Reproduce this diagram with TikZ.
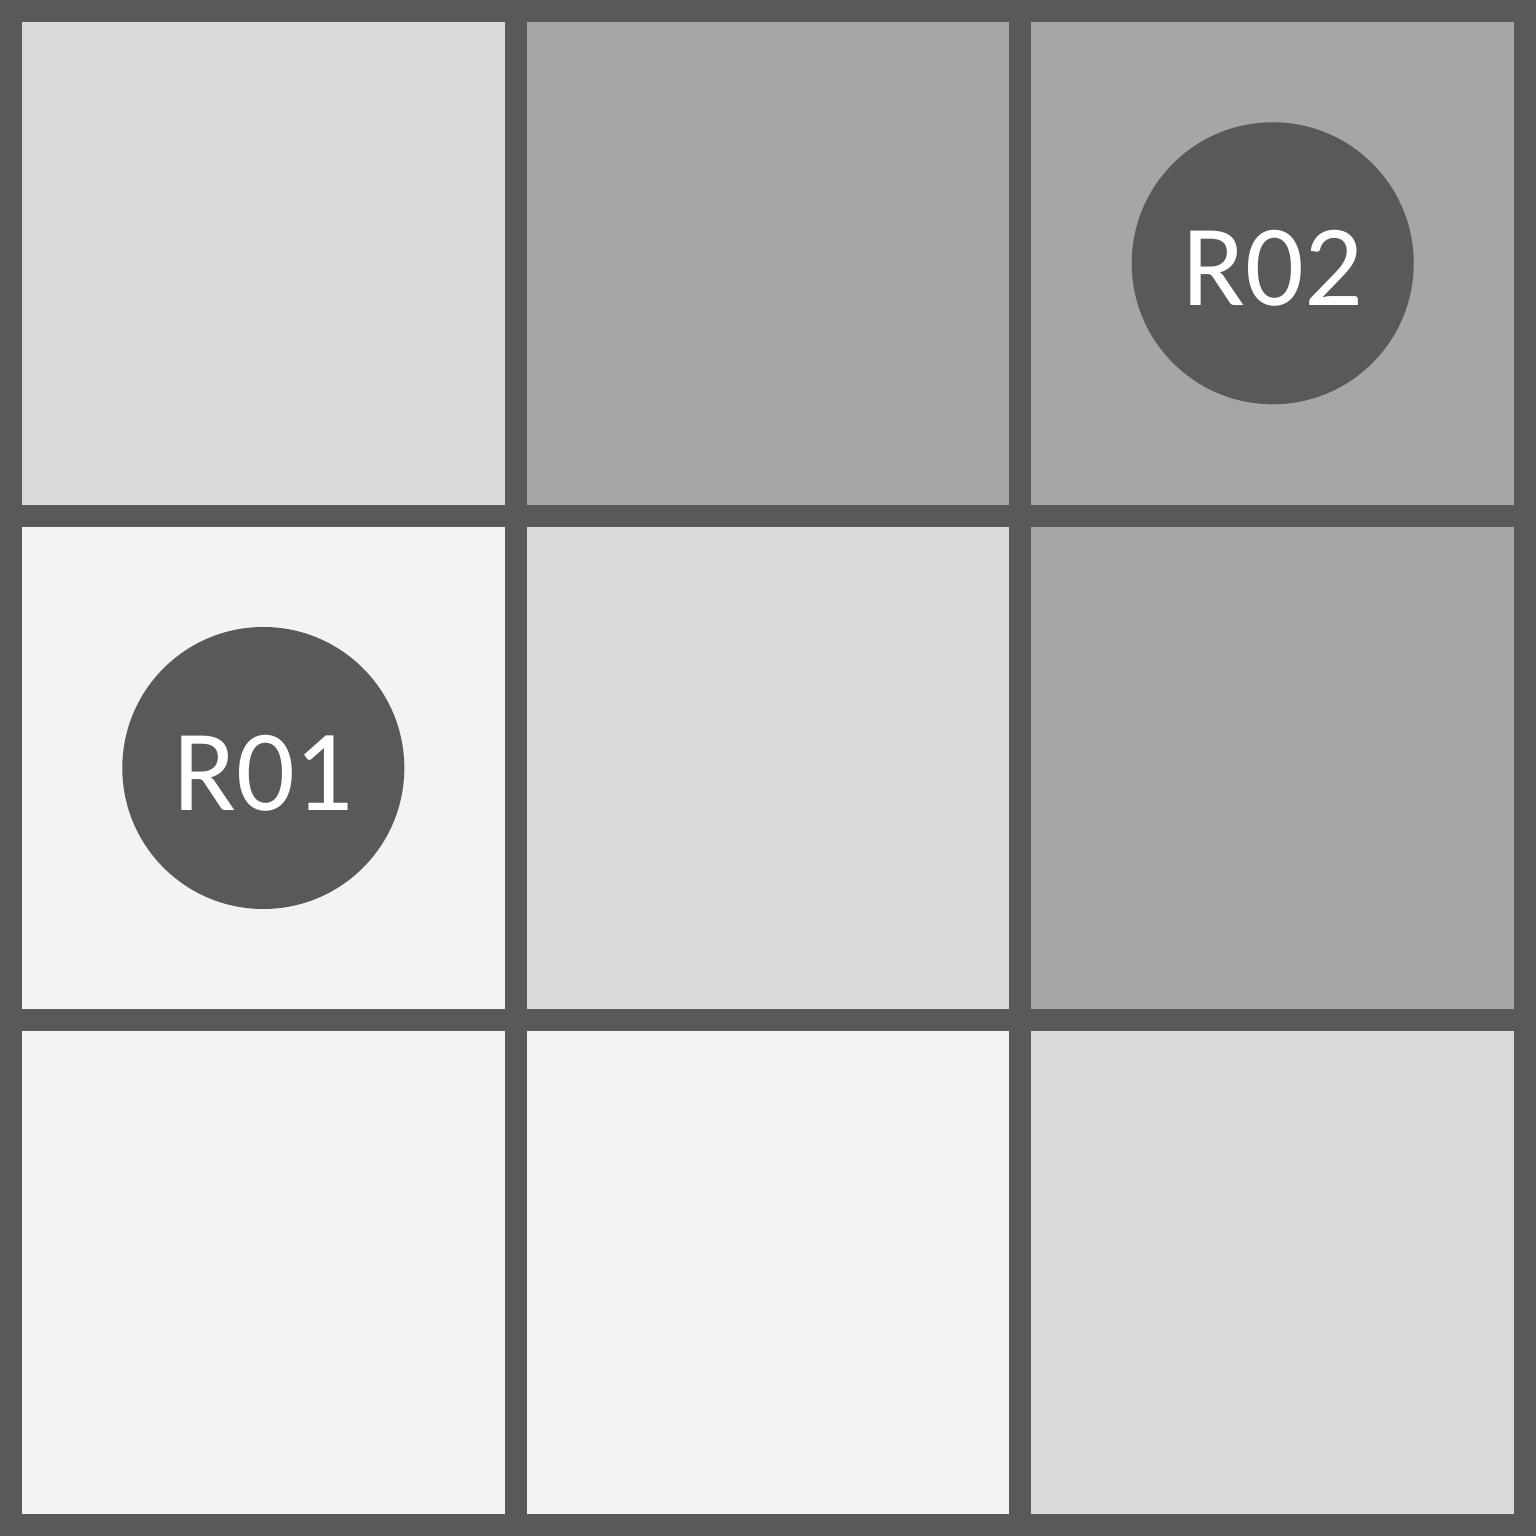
\documentclass[tikz,border=0pt]{standalone}
\usepackage{fontspec}
\setmainfont{Carlito}
\definecolor{gridline}{HTML}{595959}
\definecolor{cellA}{HTML}{F3F3F3}
\definecolor{cellB}{HTML}{D9D9D9}
\definecolor{cellC}{HTML}{A6A6A6}
\tikzset{
  cell/.style={draw=gridline, line width=0.22cm, minimum size=5.0467cm, inner sep=0pt, outer sep=0pt},
  robot/.style={circle, fill=gridline, minimum size=2.82cm, inner sep=0pt, text=white, font=\fontsize{33}{33}\selectfont}
}
\newcommand{\robotlabel}[1]{\raisebox{-1.4pt}[\height][\depth]{#1}}
\begin{document}
\begin{tikzpicture}
\useasboundingbox (0,0) rectangle (15.36,15.36);
% row 1 (top)
\node[cell, fill=cellB] (c11) at (2.633,12.727) {};
\node[cell, fill=cellC] (c12) at (7.68,12.727) {};
\node[cell, fill=cellC] (c13) at (12.727,12.727) {};
% row 2
\node[cell, fill=cellA] (c21) at (2.633,7.68) {};
\node[cell, fill=cellB] (c22) at (7.68,7.68) {};
\node[cell, fill=cellC] (c23) at (12.727,7.68) {};
% row 3
\node[cell, fill=cellA] (c31) at (2.633,2.633) {};
\node[cell, fill=cellA] (c32) at (7.68,2.633) {};
\node[cell, fill=cellB] (c33) at (12.727,2.633) {};
% robots
\node[robot] (r01) at (c21.center) {\robotlabel{R01}};
\node[robot] (r02) at (c13.center) {\robotlabel{R02}};
\end{tikzpicture}
\end{document}
